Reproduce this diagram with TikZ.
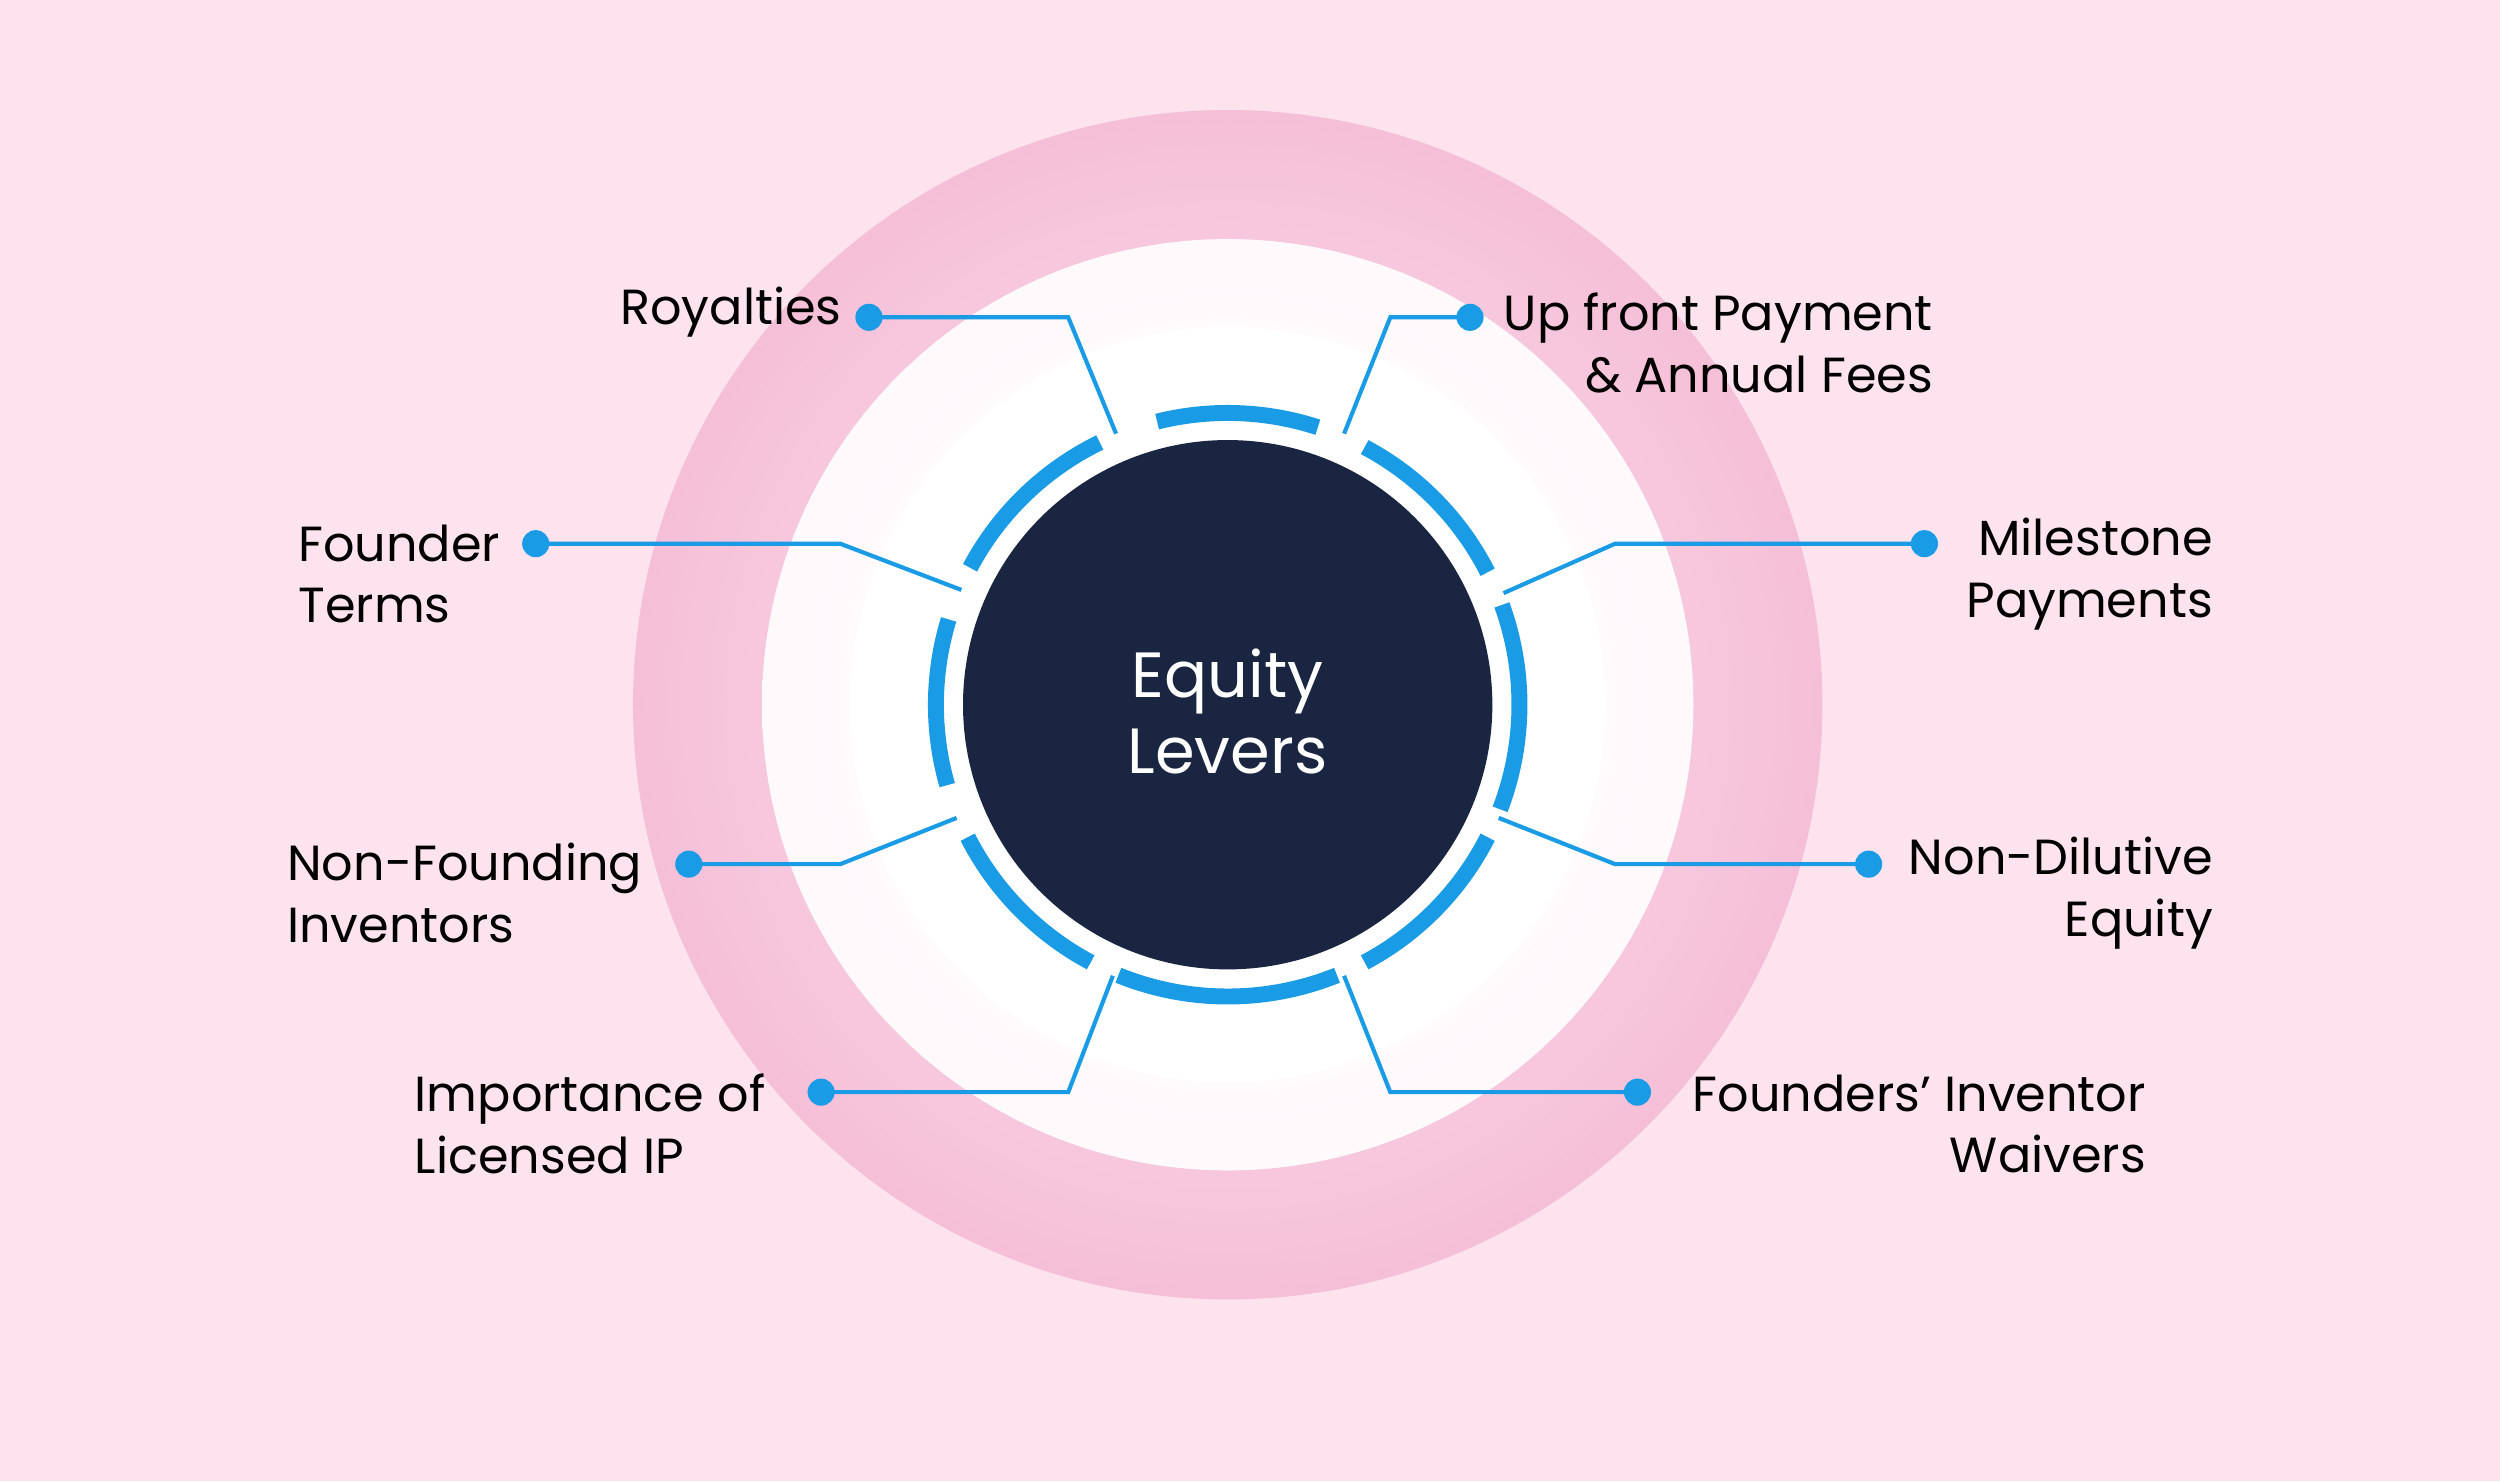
\documentclass[tikz,border=0pt]{standalone}
\usepackage{fontspec}
\usetikzlibrary{calc}
\setmainfont{Poppins}
\definecolor{bg}{HTML}{FCE3EE}
\definecolor{navy}{HTML}{1A2541}
\definecolor{lb}{HTML}{1A9BE6}
\definecolor{halo}{HTML}{F5BFD7}
\definecolor{halo2}{HTML}{FDEAF2}
\begin{document}
\begin{tikzpicture}[x=0.5mm,y=-0.5mm,
  lbl/.style={font=\fontsize{44}{55}\selectfont, text=black, inner sep=0pt},
  conn/.style={draw=lb, line width=1.3mm},
  seg/.style={draw=lb, line width=5mm},
  dot/.style={circle, fill=lb, minimum size=8.5mm, inner sep=0pt}]
\useasboundingbox (0,0) rectangle (1568,929);
\fill[bg] (0,0) rectangle (1568,929);
\shade[inner color=halo2, outer color=halo] (770,442) circle (373);
\fill[halo2] (770,442) circle (292);
\shade[inner color=white, outer color=white!70!halo2] (770,442) circle (292);
\fill[white] (770,442) circle (237);
\node[circle, fill=navy, minimum size=166mm, inner sep=0pt] (c) at (770,442) {};
\node[font=\fontsize{57}{68}\selectfont, text=white, align=center] (ct) at (770,446) {Equity\\Levers};
\foreach \a/\b in {72/104, 116/152, 163/196, 207/242, 248/292, 298/333, 339/380, 27/62}{
  \draw[seg] ($(770,442)+({cos(\a)*183},{-sin(\a)*183})$) arc[start angle=-\a, end angle=-\b, radius=183];
}
\foreach \n/\dx/\dy/\kx/\ky/\ex/\ey in {r/545/199/670/199/700/272, u/922/199/872/199/843/272, m/1207/341/1013/341/943/372, nd/1172/542/1013/542/940/513, fi/1027/685/872/685/843/612, ip/515/685/670/685/698/612, nf/432/542/527/542/600/513, ft/336/341/527/341/603/370}{
  \node[dot] (d\n) at (\dx,\dy) {};
  \coordinate (k\n) at (\kx,\ky);
  \coordinate (e\n) at (\ex,\ey);
  \draw[conn] (d\n.center) -- (k\n) -- (e\n);
}
\node[lbl, anchor=east] (tr) at (528,196) {Royalties};
\node[lbl, anchor=west, align=right] (tu) at (943,215) {Up front Payment\\\& Annual Fees};
\node[lbl, anchor=west, align=left] (tft) at (187,360) {Founder\\Terms};
\node[lbl, anchor=east, align=right] (tm) at (1388,360) {Milestone\\Payments};
\node[lbl, anchor=west, align=left] (tnf) at (180,560) {Non-Founding\\Inventors};
\node[lbl, anchor=east, align=right] (tnd) at (1388,560) {Non-Dilutive\\Equity};
\node[lbl, anchor=west, align=left] (tip) at (260,705) {Importance of\\Licensed IP};
\node[lbl, anchor=east, align=right] (tfi) at (1346,705) {Founders’ Inventor\\Waivers};
\end{tikzpicture}
\end{document}
